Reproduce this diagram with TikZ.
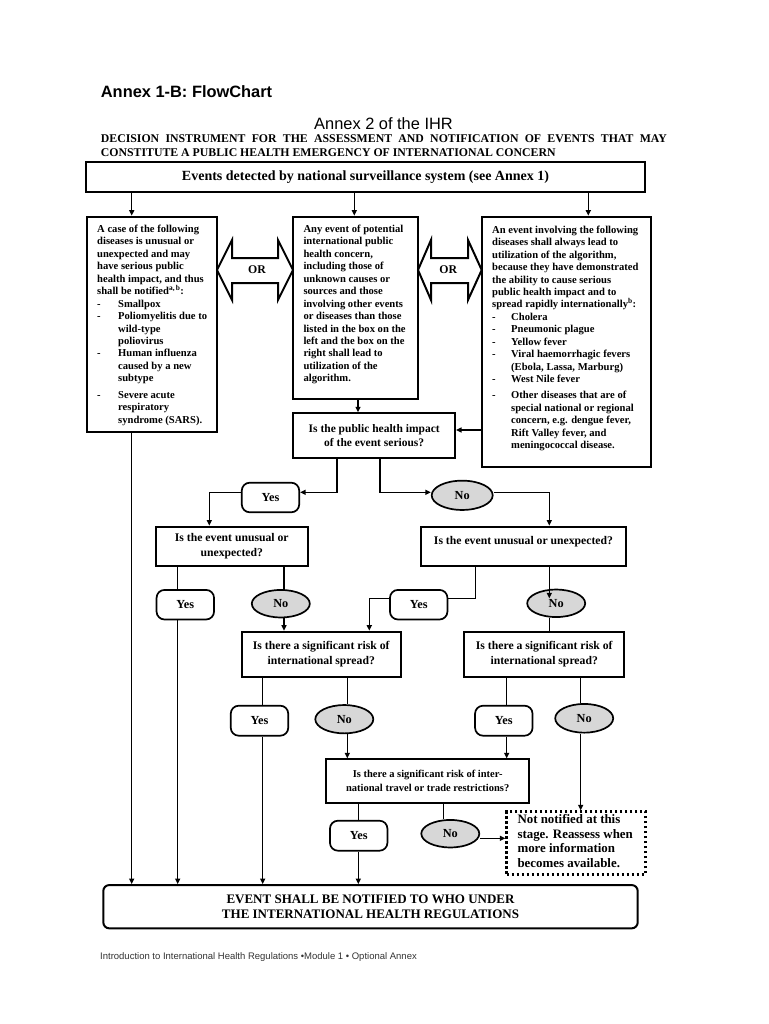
\documentclass[tikz,border=0pt]{standalone}
\usepackage{fontspec}
\setmainfont{Liberation Serif}
\newfontfamily\arialf{Liberation Sans}
\usetikzlibrary{arrows.meta,shapes.geometric}
\newcommand\myfs[2]{\fontsize{#1}{#2}\selectfont}
\newcommand\mybulL{\makebox[21pt][l]{-}}
\newcommand\myindL{\hspace*{21pt}}
\newcommand\mybulR{\makebox[19pt][l]{-}}
\newcommand\myindR{\hspace*{19pt}}
\definecolor{nogray}{RGB}{215,215,215}
\begin{document}
\begin{tikzpicture}[x=1pt,y=-1pt,
  box/.style={draw,line width=2pt,inner sep=0pt,align=center,font=\bfseries\myfs{11.7}{14.3}},
  pill/.style={draw,line width=1.7pt,rounded corners=8pt,fill=white,inner sep=0pt,minimum width=57.5pt,minimum height=29.6pt,font=\bfseries\myfs{12.3}{14}},
  nooval/.style={ellipse,draw,line width=1.7pt,fill=nogray,inner sep=0pt,minimum width=58pt,minimum height=27.5pt,font=\bfseries\myfs{12.3}{14}},
  arr/.style={line width=1.5pt,-{Triangle[length=5.5pt,width=5pt]}},
  ln/.style={line width=1.5pt},
  txt/.style={inner sep=0pt,anchor=north west,align=left,font=\bfseries\myfs{10.6}{12.45}},
  orarrow/.style={line width=2pt,fill=white,line join=miter}]
\fill[white] (0,0) rectangle (768,1024);
\useasboundingbox (0,0) rectangle (768,1024);

% header
\node[anchor=west,inner sep=0pt,font=\arialf\bfseries\myfs{16.4}{19}] (title) at (100.7,91.7) {Annex 1-B: FlowChart};
\node[inner sep=0pt,font=\arialf\myfs{16.4}{19}] (sub) at (383.5,123.3) {Annex 2 of the IHR};
\node[anchor=west,inner sep=0pt,font=\bfseries\myfs{11.8}{14}] (dec1) at (100.7,138.3) {\makebox[566pt][s]{DECISION INSTRUMENT FOR THE ASSESSMENT AND NOTIFICATION OF EVENTS THAT MAY}};
\node[anchor=west,inner sep=0pt,font=\bfseries\myfs{11.8}{14}] (dec2) at (100.7,152.7) {CONSTITUTE A PUBLIC HEALTH EMERGENCY OF INTERNATIONAL CONCERN};

% top box
\node[box,line width=2.2pt,minimum width=559pt,minimum height=30pt,font=\bfseries\myfs{14}{16}] (top) at (365.5,176.7) {Events detected by national surveillance system (see Annex 1)};

% three entry boxes
\node[box,minimum width=130pt,minimum height=215pt] (L) at (151.7,324.2) {};
\node[txt] (Ltext) at (97,224.8) {A case of the following\\
diseases is unusual or\\
unexpected and may\\
have serious public\\
health impact, and thus\\
shall be notified\textsuperscript{a,\,b}:\\
\mybulL Smallpox\\
\mybulL Poliomyelitis due to\\
\myindL wild-type\\
\myindL poliovirus\\
\mybulL Human influenza\\
\myindL caused by a new\\
\myindL subtype\\[3.8pt]
\mybulL Severe acute\\
\myindL respiratory\\
\myindL syndrome (SARS).};

\node[box,minimum width=125pt,minimum height=182.3pt] (M) at (355.8,307.8) {};
\node[txt] (Mtext) at (303.3,224.8) {Any event of potential\\
international public\\
health concern,\\
including those of\\
unknown causes or\\
sources and those\\
involving other events\\
or diseases than those\\
listed in the box on the\\
left and the box on the\\
right shall lead to\\
utilization of the\\
algorithm.};

\node[box,minimum width=169.3pt,minimum height=250.6pt] (R) at (566.35,342) {};
\node[txt] (Rtext) at (492,225.6) {An event involving the following\\
diseases shall always lead to\\
utilization of the algorithm,\\
because they have demonstrated\\
the ability to cause serious\\
public health impact and to\\
spread rapidly internationally\textsuperscript{b}:\\
\mybulR Cholera\\
\mybulR Pneumonic plague\\
\mybulR Yellow fever\\
\mybulR Viral haemorrhagic fevers\\
\myindR (Ebola, Lassa, Marburg)\\
\mybulR West Nile fever\\[3.8pt]
\mybulR Other diseases that are of\\
\myindR special national or regional\\
\myindR concern, e.g. dengue fever,\\
\myindR Rift Valley fever, and\\
\myindR meningococcal disease.};

% OR double arrows
\draw[orarrow] (217,270) -- (232,240) -- (232,258) -- (278,258) -- (278,240) -- (293,270) -- (278,300) -- (278,283) -- (232,283) -- (232,300) -- cycle;
\node[inner sep=0pt,font=\bfseries\myfs{11.8}{14}] (or1) at (257,270) {OR};
\draw[orarrow] (418,270) -- (431,240) -- (431,258) -- (468,258) -- (468,240) -- (481.7,270) -- (468,300) -- (468,283) -- (431,283) -- (431,300) -- cycle;
\node[inner sep=0pt,font=\bfseries\myfs{11.8}{14}] (or2) at (448.3,270) {OR};

% decision boxes
\node[box,minimum width=161.7pt,minimum height=45pt,font=\bfseries\myfs{11.5}{14}] (Q1) at (374.2,435.8) {Is the public health impact\\of the event serious?};
\node[pill] (Yes1) at (270.5,497.5) {Yes};
\node[nooval,minimum width=61pt,minimum height=29.3pt] (No1) at (462.2,495.3) {No};
\node[box,minimum width=151.7pt,minimum height=39.3pt] (Q2) at (231.8,546.3) {Is the event unusual or\\unexpected?};
\node[box,minimum width=205pt,minimum height=39.3pt] (Q3) at (523.5,546.3) {Is the event unusual or unexpected?\\[-6pt]\strut};
\node[pill] (Yes2) at (185.3,604.7) {Yes};
\node[nooval] (No2) at (280.8,603.7) {No};
\node[pill] (Yes3) at (418.7,604.7) {Yes};
\node[nooval] (No3) at (556.2,603.3) {No};
\node[box,minimum width=159pt,minimum height=45pt,font=\bfseries\myfs{11.7}{15.7}] (Q4) at (321.2,654.2) {Is there a significant risk of\\international spread?};
\node[box,minimum width=159.7pt,minimum height=45pt,font=\bfseries\myfs{11.7}{15.7}] (Q5) at (544.2,654.2) {Is there a significant risk of\\international spread?};
\node[pill,minimum height=30pt] (Yes4) at (259.5,720.7) {Yes};
\node[nooval,minimum height=28.3pt] (No4) at (344.3,719.2) {No};
\node[pill,minimum height=30pt] (Yes5) at (503.8,720.7) {Yes};
\node[nooval,minimum height=28.7pt] (No5) at (584.2,718.3) {No};
\node[box,minimum width=203.3pt,minimum height=43.4pt,font=\bfseries\myfs{10.5}{14}] (Q6) at (427.7,781) {Is there a significant risk of inter-\\national travel or trade restrictions?};
\node[pill,minimum height=30pt] (Yes6) at (358.7,835.7) {Yes};
\node[nooval] (No6) at (450.3,833.7) {No};

% not notified box
\node[draw,line width=2.8pt,dash pattern=on 2.6pt off 2.4pt,minimum width=139pt,minimum height=62.6pt,inner sep=0pt] (dash) at (576.2,843) {};
\node[txt,font=\bfseries\myfs{12.9}{14.7}] (dtext) at (517.3,814.3) {Not notified at this\\stage. Reassess when\\more information\\becomes available.};

% final box
\node[draw,line width=2pt,rounded corners=6pt,minimum width=534.4pt,minimum height=43.3pt,align=center,inner sep=0pt,font=\bfseries\myfs{13}{15}] (final) at (370.5,906.7) {EVENT SHALL BE NOTIFIED TO WHO UNDER\\THE INTERNATIONAL HEALTH REGULATIONS};

% footer
\node[anchor=base west,inner sep=0pt,font=\arialf\myfs{9.5}{11},text=black!80] (foot) at (100,959) {Introduction to International Health Regulations •Module 1 • Optional Annex};

% lanes
\coordinate (xa) at (131.7,0);
\coordinate (xb) at (177.7,0);
\coordinate (xc) at (209.3,0);
\coordinate (xd) at (284,0);
\coordinate (xe) at (337,0);
\coordinate (xf) at (380,0);
\coordinate (xg) at (549.3,0);
\coordinate (xh) at (475.7,0);
\coordinate (xi) at (369.3,0);
\coordinate (xj) at (262.7,0);
\coordinate (xk) at (347.3,0);
\coordinate (xl) at (506.7,0);
\coordinate (xm) at (580.7,0);
\coordinate (xn) at (358.3,0);
\coordinate (xo) at (443.3,0);
\coordinate (xp) at (354.3,0);
\coordinate (xq) at (588.3,0);
\coordinate (xr) at (358,0);
\coordinate (y1) at (0,492.3);
\coordinate (y2) at (0,598.3);
\coordinate (y3) at (0,838.3);
\coordinate (y4) at (0,430);

% connectors
\draw[arr] (top.south -| xa) -- (L.north -| xa);
\draw[arr] (top.south -| xp) -- (M.north -| xp);
\draw[arr] (top.south -| xq) -- (R.north -| xq);
\draw[arr] (M.south -| xr) -- (Q1.north -| xr);
\draw[arr] (R.west |- y4) -- (Q1.east |- y4);

\draw[arr] (Q1.south -| xe) |- (Yes1.east |- y1);
\draw[arr] (Yes1.west |- y1) -| (Q2.north -| xc);
\draw[arr] (Q1.south -| xf) |- (No1.west |- y1);
\draw[arr] (No1.east |- y1) -| (Q3.north -| xg);

\draw[arr] (L.south -| xa) -- (final.north -| xa);
\draw[ln] (Q2.south -| xb) -- (Yes2.north -| xb);
\draw[arr] (Yes2.south -| xb) -- (final.north -| xb);
\draw[ln] (Q2.south -| xd) -- (No2.north -| xd);
\draw[arr] (No2.south -| xd) -- (Q4.north -| xd);

\draw[ln] (Q3.south -| xh) |- (Yes3.east |- y2);
\draw[arr] (Yes3.west |- y2) -| (Q4.north -| xi);
\draw[arr] (Q3.south -| xg) -- (xg |- y2);
\draw[ln] (No3.south -| xg) -- (Q5.north -| xg);

\draw[ln] (Q4.south -| xj) -- (Yes4.north -| xj);
\draw[arr] (Yes4.south -| xj) -- (final.north -| xj);
\draw[ln] (Q4.south -| xk) -- (No4.north -| xk);
\draw[arr] (No4.south -| xk) -- (Q6.north -| xk);

\draw[ln] (Q5.south -| xl) -- (Yes5.north -| xl);
\draw[arr] (Yes5.south -| xl) -- (Q6.north -| xl);
\draw[ln] (Q5.south -| xm) -- (No5.north -| xm);
\draw[arr] (No5.south -| xm) -- (dash.north -| xm);

\draw[ln] (Q6.south -| xn) -- (Yes6.north -| xn);
\draw[arr] (Yes6.south -| xn) -- (final.north -| xn);
\draw[ln] (Q6.south -| xo) -- (No6.north -| xo);
\draw[arr] (No6.east |- y3) -- (dash.west |- y3);
\end{tikzpicture}
\end{document}
